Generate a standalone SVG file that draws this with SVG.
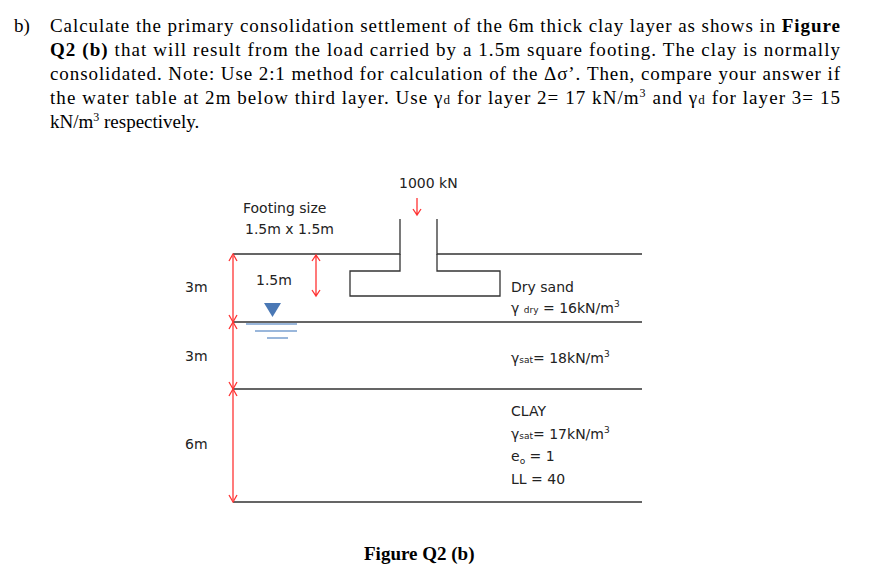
<svg xmlns="http://www.w3.org/2000/svg" width="870" height="578" viewBox="0 0 870 578">
<style>
.t{font-family:"Liberation Serif",serif;font-size:19px;fill:#000}
.s{font-family:"DejaVu Sans",sans-serif;font-size:14px;fill:#222}
.g{stroke:#333;stroke-width:1.3;fill:none}
.r{stroke:#f33;stroke-width:1.3;fill:none}
</style>
<rect width="870" height="578" fill="#fff"/>
<g id="question">
<text class="t" x="14" y="32">b)</text>
<text class="t" x="50" y="32" textLength="790" lengthAdjust="spacing">Calculate the primary consolidation settlement of the 6m thick clay layer as shows in <tspan font-weight="bold">Figure</tspan></text>
<text class="t" x="50" y="56" textLength="790" lengthAdjust="spacing"><tspan font-weight="bold">Q2 (b)</tspan> that will result from the load carried by a 1.5m square footing. The clay is normally</text>
<text class="t" x="50" y="80" textLength="790" lengthAdjust="spacing">consolidated. Note: Use 2:1 method for calculation of the Δσ’. Then, compare your answer if</text>
<text class="t" x="50" y="104" textLength="790" lengthAdjust="spacing">the water table at 2m below third layer. Use γ<tspan font-size="13">d</tspan> for layer 2= 17 kN/m<tspan font-size="12" dy="-7">3</tspan><tspan dy="7"> and γ</tspan><tspan font-size="13">d</tspan> for layer 3= 15</text>
<text class="t" x="50" y="128">kN/m<tspan font-size="12" dy="-7">3</tspan><tspan dy="7"> respectively.</tspan></text>
</g>
<g id="ground" class="g">
<path d="M233 254H400V219M437 219V254H642"/>
<path d="M400 254V271H350V296H500V271H437V254"/>
<path d="M233 322H642M233 389H642M233 502H642"/>
</g>
<g id="watertable">
<path d="M264 303H281L272.5 317Z" fill="#4a78b5"/>
<path d="M246 324H297M255 331H297M267 338H288" stroke="#7aa0d0" stroke-width="1.3"/>
</g>
<g id="connectors" class="r">
<path d="M233 256V500"/>
<path d="M229 261L233 254L237 261M229 315L233 322L237 315M229 329L233 322L237 329M229 382L233 389L237 382M229 396L233 389L237 396M229 495L233 502L237 495"/>
<path d="M316 256V295M312 261L316 255L320 261M312 290L316 296L320 290"/>
<path d="M417 198V215M413 209L417 215L421 209"/>
</g>
<g id="labels">
<text class="s" x="399" y="188">1000 kN</text>
<text class="s" x="243" y="213">Footing size</text>
<text class="s" x="245" y="234">1.5m  x 1.5m</text>
<text class="s" x="256" y="285">1.5m</text>
<text class="s" x="185" y="292">3m</text>
<text class="s" x="185" y="361">3m</text>
<text class="s" x="185" y="449">6m</text>
<text class="s" x="511" y="292">Dry sand</text>
<text class="s" x="511" y="313">γ <tspan font-size="9">dry</tspan>  = 16kN/m<tspan font-size="9" dy="-6">3</tspan></text>
<text class="s" x="511" y="363">γ<tspan font-size="9">sat</tspan>= 18kN/m<tspan font-size="9" dy="-6">3</tspan></text>
<text class="s" x="511" y="416">CLAY</text>
<text class="s" x="511" y="439">γ<tspan font-size="9">sat</tspan>= 17kN/m<tspan font-size="9" dy="-6">3</tspan></text>
<text class="s" x="511" y="461">e<tspan font-size="9" dy="3">o</tspan><tspan dy="-3"> = 1</tspan></text>
<text class="s" x="511" y="484">LL = 40</text>
<text class="t" x="364" y="560" font-weight="bold">Figure Q2 (b)</text>
</g>
</svg>
